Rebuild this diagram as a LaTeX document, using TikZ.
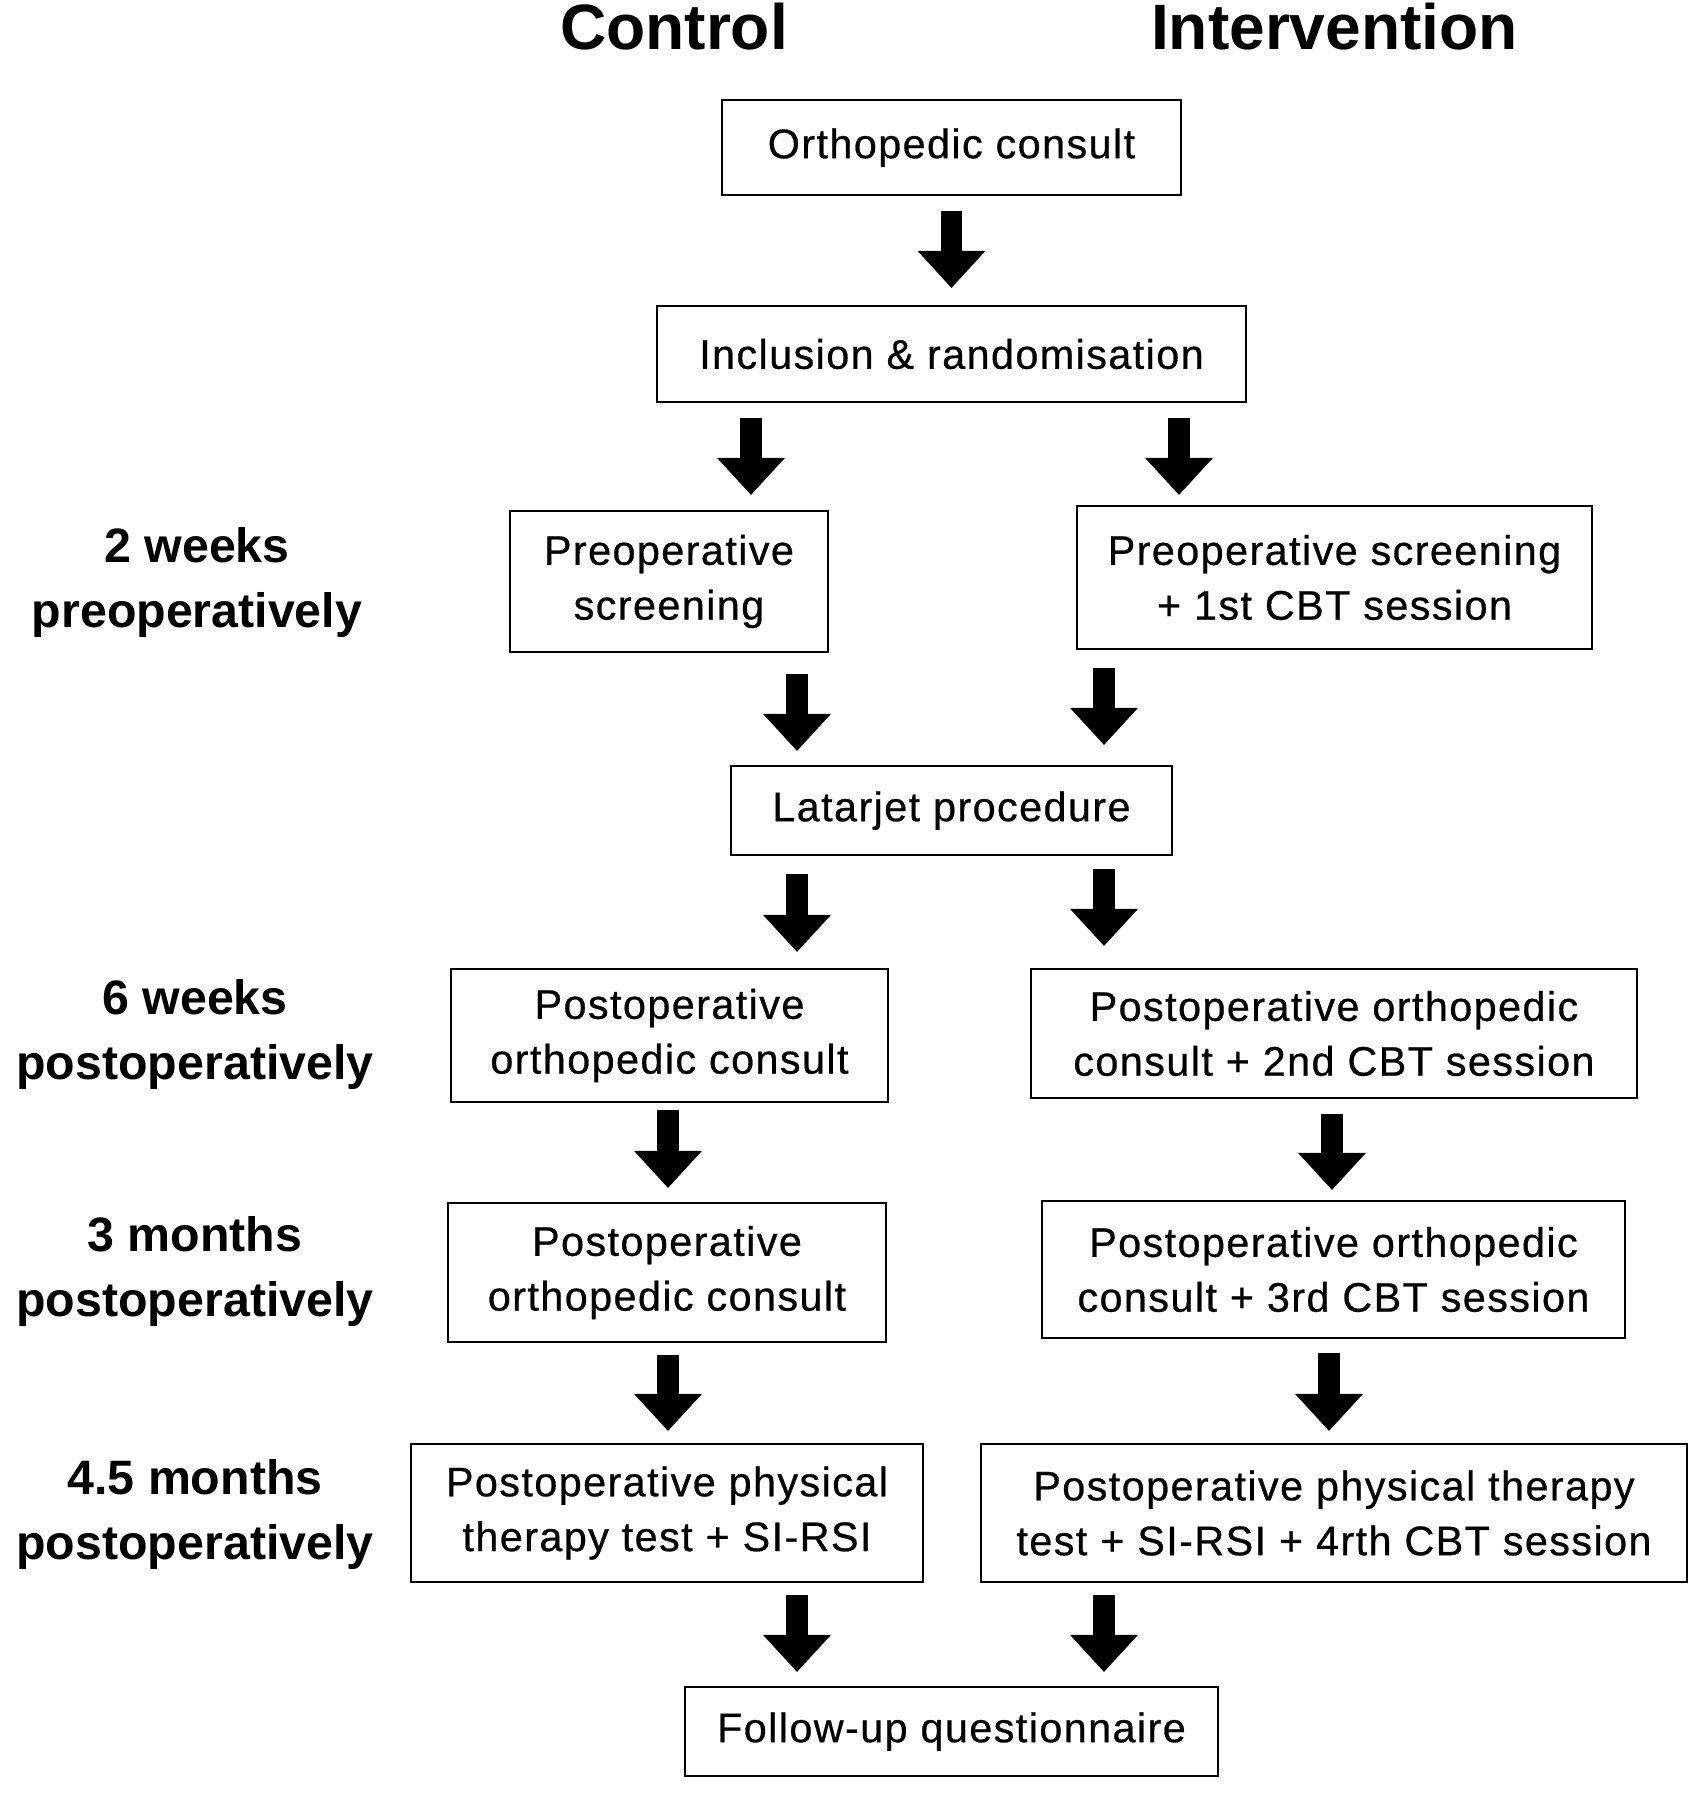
\documentclass[tikz,border=0pt]{standalone}
\usepackage{fontspec}
\setmainfont{Liberation Sans}
\newfontfamily\boxfam[LetterSpace=3.5,FakeBold=0.6]{Liberation Sans}
\usetikzlibrary{arrows.meta,calc}
\newcommand\boxfnt{\boxfam\fontsize{23.5}{31.2}\selectfont}
\newcommand\labfnt{\bfseries\fontsize{27.5}{37}\selectfont}
\newcommand\headfnt{\bfseries\fontsize{36.5}{40}\selectfont}
\begin{document}
\begin{tikzpicture}[x=0.02cm,y=-0.02cm,
  flowbox/.style={draw=black, line width=1.3pt, align=center, inner sep=0pt, font=\boxfnt},
  timelab/.style={align=center, inner sep=0pt, font=\labfnt},
  headlab/.style={anchor=base, inner sep=0pt, font=\headfnt},
  blk/.style={line width=12.5pt, -{Triangle[width=38.6pt,length=21pt,line width=0pt]}}]
\fill[white] (0,0) rectangle (1701,1800);
\useasboundingbox (0,0) rectangle (1701,1800);

% headers
\node[headlab] (hc) at (674,49) {Control};
\node[headlab] (hi) at (1334.5,49) {Intervention};

% time labels
\node[timelab] (l1) at (197,582) {2 weeks\\preoperatively};
\node[timelab] (l2) at (195,1034) {6 weeks\\postoperatively};
\node[timelab] (l3) at (195,1271) {3 months\\postoperatively};
\node[timelab] (l4) at (195,1514) {4.5 months\\postoperatively};

% boxes
\node[flowbox, minimum width=9.18cm, minimum height=1.90cm] (ortho) at (951.5,147.5) {Orthopedic consult};
\node[flowbox, minimum width=11.78cm, minimum height=1.92cm] (incl) at (951.5,354) {Inclusion \& randomisation};
\node[flowbox, minimum width=6.36cm, minimum height=2.82cm] (prec) at (669,581.5) {Preoperative\\screening};
\node[flowbox, minimum width=10.30cm, minimum height=2.86cm] (prei) at (1334.5,577.5) {Preoperative screening\\+ 1st CBT session};
\node[flowbox, minimum width=8.82cm, minimum height=1.78cm] (lat) at (951.5,810.5) {Latarjet procedure};
\node[flowbox, minimum width=8.74cm, minimum height=2.66cm] (c6) at (669.5,1035.5) {Postoperative\\orthopedic consult};
\node[flowbox, minimum width=12.12cm, minimum height=2.58cm] (i6) at (1334,1033.5) {Postoperative orthopedic\\consult + 2nd CBT session};
\node[flowbox, minimum width=8.76cm, minimum height=2.78cm] (c3) at (667,1272.5) {Postoperative\\orthopedic consult};
\node[flowbox, minimum width=11.66cm, minimum height=2.74cm] (i3) at (1333.5,1269.5) {Postoperative orthopedic\\consult + 3rd CBT session};
\node[flowbox, minimum width=10.24cm, minimum height=2.76cm] (c45) at (667,1513) {Postoperative physical\\therapy test + SI-RSI};
\node[flowbox, minimum width=14.12cm, minimum height=2.76cm] (i45) at (1334,1513) {Postoperative physical therapy\\test + SI-RSI + 4rth CBT session};
\node[flowbox, minimum width=10.66cm, minimum height=1.78cm] (fu) at (951.5,1731.5) {Follow-up questionnaire};

% block arrows
\draw[blk] ($(ortho.south)+(0,15)$) -- ($(incl.north)+(0,-17)$);
\draw[blk] ($(incl.south)+(-200.5,15)$) -- ($(prec.north)+(82,-15)$);
\draw[blk] ($(incl.south)+(227.5,15)$) -- ($(prei.north)+(-155.5,-10)$);
\draw[blk] ($(prec.south)+(128,21)$) -- ($(lat.north)+(-154.5,-14)$);
\draw[blk] ($(prei.south)+(-230.5,18)$) -- ($(lat.north)+(152.5,-20)$);
\draw[blk] ($(lat.south)+(-154.5,18)$) -- ($(c6.north)+(127.5,-16)$);
\draw[blk] ($(lat.south)+(152.5,13)$) -- ($(i6.north)+(-230,-22)$);
\draw[blk] ($(c6.south)+(-1.5,7)$) -- ($(c3.north)+(1,-14)$);
\draw[blk] ($(i6.south)+(-2,15)$) -- ($(i3.north)+(-1.5,-10)$);
\draw[blk] ($(c3.south)+(1,12)$) -- ($(c45.north)+(1,-12)$);
\draw[blk] ($(i3.south)+(-4.5,14)$) -- ($(i45.north)+(-5,-12)$);
\draw[blk] ($(c45.south)+(130,12)$) -- ($(fu.north)+(-154.5,-14)$);
\draw[blk] ($(i45.south)+(-230,12)$) -- ($(fu.north)+(152.5,-14)$);
\end{tikzpicture}
\end{document}
